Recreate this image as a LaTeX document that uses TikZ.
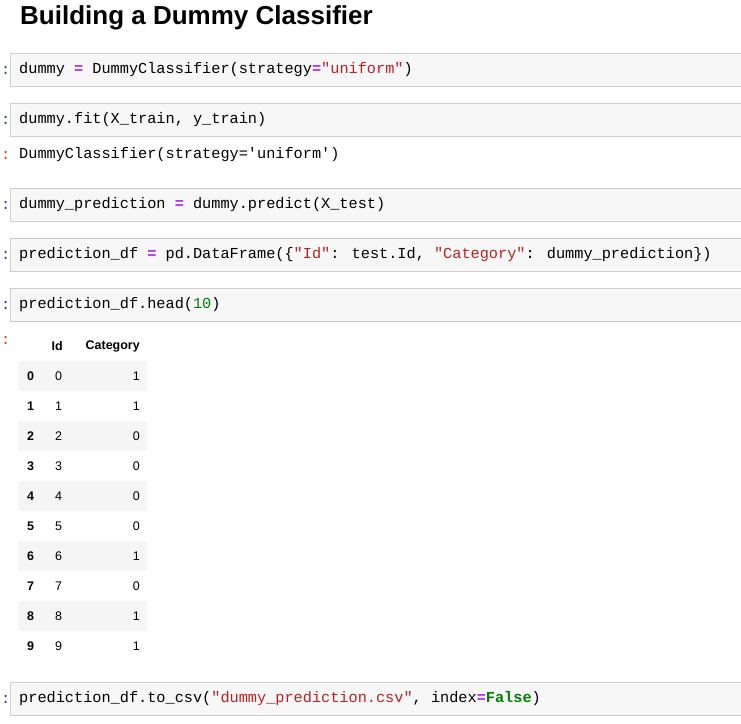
\documentclass[tikz,border=0pt]{standalone}
\usepackage{fontspec}
\setmainfont{Liberation Sans}
\newfontfamily\codefont{Liberation Mono}
\definecolor{cellbg}{HTML}{F7F7F7}
\definecolor{cellbd}{HTML}{CFCFCF}
\definecolor{inp}{HTML}{303F9F}
\definecolor{outp}{HTML}{D84315}
\definecolor{kw}{HTML}{AA22FF}
\definecolor{str}{HTML}{BA2121}
\definecolor{num}{HTML}{008000}
\definecolor{rowbg}{HTML}{F5F5F5}
\begin{document}
\begin{tikzpicture}[x=1pt,y=-1pt,
  cell/.style={draw=cellbd,fill=cellbg,line width=0.8pt},
  code/.style={anchor=west,inner sep=0pt,font=\codefont\fontsize{15.25}{17}\selectfont},
  pin/.style={anchor=west,inner sep=0pt,text=inp,font=\codefont\fontsize{15.25}{17}\selectfont},
  pout/.style={anchor=west,inner sep=0pt,text=outp,font=\codefont\fontsize{15.25}{17}\selectfont},
  tb/.style={inner sep=0pt,font=\fontsize{12.5}{14}\selectfont},
  tbb/.style={inner sep=0pt,font=\bfseries\fontsize{12.5}{14}\selectfont}]
\useasboundingbox (0,0) rectangle (741,723);
\fill[white] (0,0) rectangle (741,723);
\node[anchor=west,inner sep=0pt,font=\bfseries\fontsize{26}{29}\selectfont] (title) at (20,18) {Building a Dummy Classifier};
\foreach \n/\a/\b in {c1/53/86,c2/103/136,c3/188/221,c4/238/271,c5/288/321,c6/682/715}{
  \draw[cell] (10,\a) rectangle (742,\b);
}
\node[pin] (p1) at (1,70) {:};
\node[code] (t1) at (19,70) {dummy \textcolor{kw}{\textbf{=}} DummyClassifier(strategy\textcolor{kw}{\textbf{=}}\textcolor{str}{"uniform"})};
\node[pin] (p2) at (1,120) {:};
\node[code] (t2) at (19,120) {dummy.fit(X\_train, y\_train)};
\node[pout] (o2) at (1,155) {:};
\node[code] (r2) at (19,155) {DummyClassifier(strategy='uniform')};
\node[pin] (p3) at (1,205) {:};
\node[code] (t3) at (19,205) {dummy\_prediction \textcolor{kw}{\textbf{=}} dummy.predict(X\_test)};
\node[pin] (p4) at (1,255) {:};
\node[code] (t4) at (19,255) {prediction\_df \textcolor{kw}{\textbf{=}} pd.DataFrame(\{\textcolor{str}{"Id"}: test.Id, \textcolor{str}{"Category"}: dummy\_prediction\})};
\node[pin] (p5) at (1,305) {:};
\node[code] (t5) at (19,305) {prediction\_df.head(\textcolor{num}{10})};
\node[pout] (o5) at (1,340) {:};
\node[pin] (p6) at (1,699) {:};
\node[code] (t6) at (19,699) {prediction\_df.to\_csv(\textcolor{str}{"dummy\_prediction.csv"}, index\textcolor{kw}{\textbf{=}}\textcolor{num}{\textbf{False}})};
\node[tbb,anchor=east] (hid) at (63,346) {Id};
\node[tbb,anchor=east] (hcat) at (140,346) {Category};
\draw[line width=1pt] (18,361) -- (147,361);
\foreach \i/\c in {0/1,1/1,2/0,3/0,4/0,5/0,6/1,7/0,8/1,9/1}{
  \pgfmathsetmacro{\yy}{376+30*\i}
  \ifodd\i\else \fill[rowbg] (18,\yy-15) rectangle (147,\yy+15); \fi
  \node[tbb,anchor=west] (ix\i) at (27,\yy) {\i};
  \node[tb,anchor=west] (id\i) at (55,\yy) {\i};
  \node[tb,anchor=east] (ct\i) at (140,\yy) {\c};
}
\end{tikzpicture}
\end{document}
